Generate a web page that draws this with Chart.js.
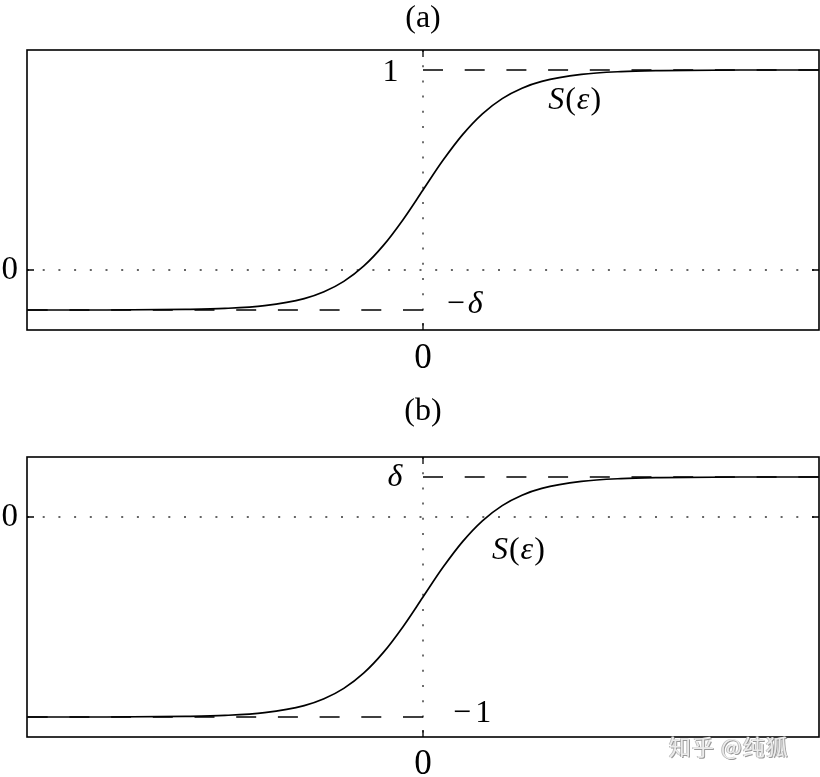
<!DOCTYPE html>
<html>
<head>
<meta charset="utf-8">
<script src="https://cdn.jsdelivr.net/npm/chart.js@4/dist/chart.umd.min.js"></script>
<style>
  body { margin: 0; background: #fff; }
  #wrap { position: relative; width: 820px; height: 777px; overflow: hidden; }
  canvas { position: absolute; left: 0; }
  #panelA { top: 0; }
  #panelB { top: 388px; }
  #mark {
    position: absolute; left: 669px; top: 729px;
    font-family: 'Noto Sans CJK SC', sans-serif; font-size: 22px;
    color: #ececec; letter-spacing: 1px;
    text-shadow: 1px 1px 0 #9a9a9a, -1px 0 0 #bdbdbd;
  }
</style>
</head>
<body>
<div id="wrap">
  <canvas id="panelA" width="820" height="390"></canvas>
  <canvas id="panelB" width="820" height="389"></canvas>
  <div id="mark">知乎 @纯狐</div>
</div>
<script>
// values (epsilon in arbitrary units, the axis only shows 0)
const epsilon = [-5, -4, -3, -2.5, -2, -1.5, -1.25, -1, -0.75, -0.5, -0.25, 0, 0.25, 0.5, 0.75, 1, 1.25, 1.5, 2, 2.5, 3, 4, 5]
const curveA = [-0.200, -0.200, -0.197, -0.192, -0.178, -0.143, -0.109, -0.057, 0.019, 0.123, 0.253, 0.400, 0.547, 0.677, 0.781, 0.857, 0.909, 0.943, 0.978, 0.992, 0.997, 1.000, 1.000]
const curveB = [-1.000, -1.000, -0.997, -0.992, -0.978, -0.943, -0.909, -0.857, -0.781, -0.677, -0.547, -0.400, -0.253, -0.123, -0.019, 0.057, 0.109, 0.143, 0.178, 0.192, 0.197, 0.200, 0.200]

// dashed asymptotes: [upper (right half), lower (left half)]
const dashA = [1, -0.2]
const dashB = [0.2, -1]

// axis ranges and ticks
const xRange = [-5, 5]
const yRangeA = [-0.3, 1.1]
const yRangeB = [-1.1, 0.3]
const xTicks = [0]
const yTicks = [0]

const serif = "'Liberation Serif', 'Times New Roman', serif"

// text labels inside the box, anchored in data units; parts = [text, italic]
const labelsA = [
    {parts: [['1', false]], x: -0.31, y: 0.985, align: 'right', gap: 0},
    {parts: [['S', true], ['(', false], ['ε', true], [')', false]], x: 1.58, y: 0.845, align: 'left', gap: 1},
    {parts: [['−', false], ['δ', true]], x: 0.30, y: -0.175, align: 'left', gap: 3}
]
const labelsB = [
    {parts: [['δ', true]], x: -0.26, y: 0.195, align: 'right', gap: 0},
    {parts: [['S', true], ['(', false], ['ε', true], [')', false]], x: 0.87, y: -0.17, align: 'left', gap: 1},
    {parts: [['−', false], ['1', false]], x: 0.38, y: -0.985, align: 'left', gap: 4}
]

// box, inward tick marks, panel title and the math labels
const framePlugin = {
    id: 'frame',
    afterDatasetsDraw(chart, args, opts) {
        const ctx = chart.ctx
        const a = chart.chartArea
        const xs = chart.scales.x
        const ys = chart.scales.y
        ctx.save()
        ctx.strokeStyle = '#000'
        ctx.lineWidth = 1.6
        ctx.strokeRect(a.left, a.top, a.right - a.left, a.bottom - a.top)

        ctx.lineWidth = 1.3
        xTicks.forEach(v => {
            const px = xs.getPixelForValue(v)
            ctx.beginPath()
            ctx.moveTo(px, a.bottom); ctx.lineTo(px, a.bottom - 7)
            ctx.moveTo(px, a.top); ctx.lineTo(px, a.top + 7)
            ctx.stroke()
        })
        yTicks.forEach(v => {
            const py = ys.getPixelForValue(v)
            ctx.beginPath()
            ctx.moveTo(a.left, py); ctx.lineTo(a.left + 7, py)
            ctx.moveTo(a.right, py); ctx.lineTo(a.right - 7, py)
            ctx.stroke()
        })

        ctx.fillStyle = '#000'
        ctx.textBaseline = 'middle'

        // panel title, centred over the axes box
        ctx.textAlign = 'center'
        ctx.font = '32px ' + serif
        ctx.fillText(opts.title, (a.left + a.right) / 2, opts.titleY)

        ctx.textAlign = 'left'
        opts.labels.forEach(lab => {
            const fontOf = it => (it ? 'italic ' : '') + '32px ' + serif
            let width = 0
            lab.parts.forEach((p, i) => {
                ctx.font = fontOf(p[1])
                width += ctx.measureText(p[0]).width + (i ? lab.gap : 0)
            })
            let px = xs.getPixelForValue(lab.x)
            if (lab.align === 'right') px -= width
            const py = ys.getPixelForValue(lab.y)
            lab.parts.forEach(p => {
                ctx.font = fontOf(p[1])
                ctx.fillText(p[0], px, py)
                px += ctx.measureText(p[0]).width + lab.gap
            })
        })
        ctx.restore()
    }
}

function makePanel(canvasId, title, titleY, areaTop, curve, dash, yRange, labels, xAxisHeight, xLabelPad) {
    const curveData = epsilon.map((e, i) => ({x: e, y: curve[i]}))
    const datasets = [
        {
            data: curveData,
            borderColor: '#000',
            borderWidth: 1.7,
            pointRadius: 0,
            cubicInterpolationMode: 'monotone'
        },
        {
            // upper asymptote, drawn from 0 to the right
            data: [{x: 0, y: dash[0]}, {x: xRange[1], y: dash[0]}],
            borderColor: '#000', borderWidth: 1.4, borderDash: [20, 21.7], pointRadius: 0
        },
        {
            // lower asymptote, drawn from 0 to the left
            data: [{x: 0, y: dash[1]}, {x: xRange[0], y: dash[1]}],
            borderColor: '#000', borderWidth: 1.4, borderDash: [20, 21.7], pointRadius: 0
        },
        {
            data: [{x: xRange[0], y: 0}, {x: xRange[1], y: 0}],
            borderColor: '#333', borderWidth: 1.4, borderDash: [2, 13.7], pointRadius: 0
        },
        {
            data: [{x: 0, y: yRange[1]}, {x: 0, y: yRange[0]}],
            borderColor: '#333', borderWidth: 1.4, borderDash: [2, 13.2], pointRadius: 0
        }
    ]

    return new Chart(document.getElementById(canvasId), {
        type: 'line',
        data: {datasets: datasets},
        plugins: [framePlugin],
        options: {
            responsive: false,
            animation: false,
            devicePixelRatio: 1,
            layout: {padding: {left: 0, right: 1, top: areaTop, bottom: 0}},
            plugins: {
                legend: {display: false},
                tooltip: {enabled: false},
                title: {display: false},
                frame: {labels: labels, title: title, titleY: titleY}
            },
            scales: {
                x: {
                    type: 'linear',
                    min: xRange[0],
                    max: xRange[1],
                    grid: {display: false, drawTicks: false},
                    border: {display: false},
                    afterBuildTicks: s => { s.ticks = xTicks.map(v => ({value: v})) },
                    afterFit: s => {
                        s.height = xAxisHeight
                        s.paddingLeft = 0; s.paddingRight = 0
                    },
                    ticks: {
                        color: '#000',
                        padding: xLabelPad,
                        maxRotation: 0,
                        font: {family: serif, size: 35},
                        callback: v => String(v)
                    }
                },
                y: {
                    min: yRange[0],
                    max: yRange[1],
                    grid: {display: false, drawTicks: false},
                    border: {display: false},
                    afterBuildTicks: s => { s.ticks = yTicks.map(v => ({value: v})) },
                    afterFit: s => {
                        s.width = 27
                        s.paddingTop = 0; s.paddingBottom = 0
                    },
                    ticks: {
                        color: '#000',
                        padding: 9,
                        font: {family: serif, size: 33},
                        callback: v => String(v)
                    }
                }
            }
        }
    })
}

makePanel('panelA', '(a)', 19, 50, curveA, dashA, yRangeA, labelsA, 60, 8)
makePanel('panelB', '(b)', 24, 69, curveB, dashB, yRangeB, labelsB, 40, 7)
</script>
</body>
</html>
